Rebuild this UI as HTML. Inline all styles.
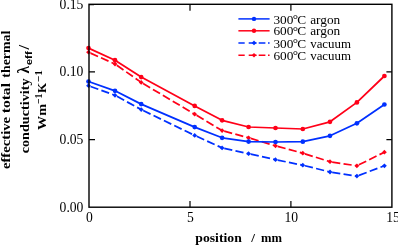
<!DOCTYPE html><html><head><meta charset="utf-8"><title>chart</title><style>html,body{margin:0;padding:0;background:#fff}svg{display:block}text{font-family:"Liberation Serif",serif;fill:#000}.b{font-weight:bold}.i{font-style:italic}.n{font-weight:normal}.s{font-family:"Liberation Sans",sans-serif;font-weight:bold}</style></head><body>
<svg width="398" height="246" viewBox="0 0 398 246">
<rect width="398" height="246" fill="#fff"/>
<path d="M90.57,86.45L115.00,95.30M116.93,96.35L141.20,109.60M143.18,110.56L194.70,135.40M196.70,136.31L222.10,147.90M224.25,148.37L248.60,153.70M250.75,154.18L275.50,159.70M277.66,160.13L302.80,165.20M304.93,165.73L330.00,172.00M332.17,172.33L356.90,176.10M358.96,175.33L384.40,165.80" fill="none" stroke="#0030ff" stroke-width="1.75" stroke-dasharray="8.2 3.3"/><path d="M86.1,85.7L88.5,83.3L90.9,85.7L88.5,88.10000000000001Z" fill="#0030ff"/><path d="M112.6,95.3L115,92.89999999999999L117.4,95.3L115,97.7Z" fill="#0030ff"/><path d="M138.79999999999998,109.6L141.2,107.19999999999999L143.6,109.6L141.2,112.0Z" fill="#0030ff"/><path d="M192.29999999999998,135.4L194.7,133.0L197.1,135.4L194.7,137.8Z" fill="#0030ff"/><path d="M219.7,147.9L222.1,145.5L224.5,147.9L222.1,150.3Z" fill="#0030ff"/><path d="M246.2,153.7L248.6,151.29999999999998L251.0,153.7L248.6,156.1Z" fill="#0030ff"/><path d="M273.1,159.7L275.5,157.29999999999998L277.9,159.7L275.5,162.1Z" fill="#0030ff"/><path d="M300.40000000000003,165.2L302.8,162.79999999999998L305.2,165.2L302.8,167.6Z" fill="#0030ff"/><path d="M327.6,172L330,169.6L332.4,172L330,174.4Z" fill="#0030ff"/><path d="M354.5,176.1L356.9,173.7L359.29999999999995,176.1L356.9,178.5Z" fill="#0030ff"/><path d="M382.0,165.8L384.4,163.4L386.79999999999995,165.8L384.4,168.20000000000002Z" fill="#0030ff"/>
<path d="M90.51,53.09L115.00,64.00M116.80,65.26L141.20,82.40M143.09,83.52L194.70,114.20M196.59,115.33L222.10,130.60M224.22,131.18L248.60,137.80M250.71,138.43L275.50,145.80M277.62,146.38L302.80,153.20M304.90,153.86L330.00,161.70M332.17,162.03L356.90,165.80M358.87,164.82L384.40,152.20" fill="none" stroke="#ff0018" stroke-width="1.75" stroke-dasharray="8.2 3.3"/><path d="M86.1,52.2L88.5,49.800000000000004L90.9,52.2L88.5,54.6Z" fill="#ff0018"/><path d="M112.6,64L115,61.6L117.4,64L115,66.4Z" fill="#ff0018"/><path d="M138.79999999999998,82.4L141.2,80.0L143.6,82.4L141.2,84.80000000000001Z" fill="#ff0018"/><path d="M192.29999999999998,114.2L194.7,111.8L197.1,114.2L194.7,116.60000000000001Z" fill="#ff0018"/><path d="M219.7,130.6L222.1,128.2L224.5,130.6L222.1,133.0Z" fill="#ff0018"/><path d="M246.2,137.8L248.6,135.4L251.0,137.8L248.6,140.20000000000002Z" fill="#ff0018"/><path d="M273.1,145.8L275.5,143.4L277.9,145.8L275.5,148.20000000000002Z" fill="#ff0018"/><path d="M300.40000000000003,153.2L302.8,150.79999999999998L305.2,153.2L302.8,155.6Z" fill="#ff0018"/><path d="M327.6,161.7L330,159.29999999999998L332.4,161.7L330,164.1Z" fill="#ff0018"/><path d="M354.5,165.8L356.9,163.4L359.29999999999995,165.8L356.9,168.20000000000002Z" fill="#ff0018"/><path d="M382.0,152.2L384.4,149.79999999999998L386.79999999999995,152.2L384.4,154.6Z" fill="#ff0018"/>
<polyline points="88.5,81.5 115,90.8 141.2,104.1 194.7,127.1 222.1,137.8 248.6,141.6 275.5,142 302.8,141.7 330,135.8 356.9,123.3 384.4,104.5" fill="none" stroke="#0030ff" stroke-width="1.75" stroke-linejoin="round"/><circle cx="88.5" cy="81.5" r="2.35" fill="#0030ff"/><circle cx="115" cy="90.8" r="2.35" fill="#0030ff"/><circle cx="141.2" cy="104.1" r="2.35" fill="#0030ff"/><circle cx="194.7" cy="127.1" r="2.35" fill="#0030ff"/><circle cx="222.1" cy="137.8" r="2.35" fill="#0030ff"/><circle cx="248.6" cy="141.6" r="2.35" fill="#0030ff"/><circle cx="275.5" cy="142" r="2.35" fill="#0030ff"/><circle cx="302.8" cy="141.7" r="2.35" fill="#0030ff"/><circle cx="330" cy="135.8" r="2.35" fill="#0030ff"/><circle cx="356.9" cy="123.3" r="2.35" fill="#0030ff"/><circle cx="384.4" cy="104.5" r="2.35" fill="#0030ff"/>
<polyline points="88.5,48.1 115,60.2 141.2,77.1 194.7,105.9 222.1,120.3 248.6,127 275.5,128 302.8,129 330,121.8 356.9,102.4 384.4,76.0" fill="none" stroke="#ff0018" stroke-width="1.75" stroke-linejoin="round"/><circle cx="88.5" cy="48.1" r="2.35" fill="#ff0018"/><circle cx="115" cy="60.2" r="2.35" fill="#ff0018"/><circle cx="141.2" cy="77.1" r="2.35" fill="#ff0018"/><circle cx="194.7" cy="105.9" r="2.35" fill="#ff0018"/><circle cx="222.1" cy="120.3" r="2.35" fill="#ff0018"/><circle cx="248.6" cy="127" r="2.35" fill="#ff0018"/><circle cx="275.5" cy="128" r="2.35" fill="#ff0018"/><circle cx="302.8" cy="129" r="2.35" fill="#ff0018"/><circle cx="330" cy="121.8" r="2.35" fill="#ff0018"/><circle cx="356.9" cy="102.4" r="2.35" fill="#ff0018"/><circle cx="384.4" cy="76.0" r="2.35" fill="#ff0018"/>
<rect x="89" y="4.3" width="302.9" height="202.89999999999998" fill="none" stroke="#000" stroke-width="1.4"/>
<path d="M190.0,207.2v-6.3M190.0,4.3v6.5 M89,139.6h6M391.9,139.6h-5.5 M290.9,207.2v-6.3M290.9,4.3v6.5 M89,71.9h6M391.9,71.9h-5.5 M89,4.6h5" stroke="#000" stroke-width="1.2" fill="none"/>
<text x="83.4" y="211.7" font-size="13.6" text-anchor="end">0.00</text>
<text x="83.4" y="144.1" font-size="13.6" text-anchor="end">0.05</text>
<text x="83.4" y="76.4" font-size="13.6" text-anchor="end">0.10</text>
<text x="83.4" y="8.8" font-size="13.6" text-anchor="end">0.15</text>
<text x="89.3" y="222.1" font-size="13.6" text-anchor="middle">0</text>
<text x="190.3" y="222.1" font-size="13.6" text-anchor="middle">5</text>
<text x="291.2" y="222.1" font-size="13.6" text-anchor="middle">10</text>
<text x="393.0" y="222.1" font-size="13.6" text-anchor="middle">15</text>
<line x1="238.4" y1="18.9" x2="269.6" y2="18.9" stroke="#0030ff" stroke-width="1.5"/>
<circle cx="254" cy="18.9" r="2.2" fill="#0030ff"/>
<text x="273.4" y="23.5" font-size="13.3">300<tspan dx="-0.6" dy="-0.7">°</tspan><tspan dx="-0.9" dy="0.7">C</tspan><tspan x="310.2">argon</tspan></text>
<line x1="238.4" y1="30.8" x2="269.6" y2="30.8" stroke="#ff0018" stroke-width="1.5"/>
<circle cx="254" cy="30.8" r="2.2" fill="#ff0018"/>
<text x="273.4" y="35.4" font-size="13.3">600<tspan dx="-0.6" dy="-0.7">°</tspan><tspan dx="-0.9" dy="0.7">C</tspan><tspan x="310.2">argon</tspan></text>
<path d="M238.4,42.9H244.7M248.7,42.9H256.6M258.7,42.9H265.4M268,42.9H269.6" stroke="#0030ff" stroke-width="1.5" fill="none"/>
<path d="M251.7,42.9L254,40.6L256.3,42.9L254,45.199999999999996Z" fill="#0030ff"/>
<text x="273.4" y="47.5" font-size="13.3">300<tspan dx="-0.6" dy="-0.7">°</tspan><tspan dx="-0.9" dy="0.7">C</tspan><tspan x="310.2" textLength="40.8" lengthAdjust="spacingAndGlyphs">vacuum</tspan></text>
<path d="M238.4,55.3H244.7M248.7,55.3H256.6M258.7,55.3H265.4M268,55.3H269.6" stroke="#ff0018" stroke-width="1.5" fill="none"/>
<path d="M251.7,55.3L254,53.0L256.3,55.3L254,57.599999999999994Z" fill="#ff0018"/>
<text x="273.4" y="59.9" font-size="13.3">600<tspan dx="-0.6" dy="-0.7">°</tspan><tspan dx="-0.9" dy="0.7">C</tspan><tspan x="310.2" textLength="40.8" lengthAdjust="spacingAndGlyphs">vacuum</tspan></text>
<text class="b" font-size="13.5" y="242.3"><tspan x="195.3" textLength="46.5" lengthAdjust="spacingAndGlyphs">position</tspan> <tspan x="251.3">/</tspan> <tspan x="261.0" textLength="21.0" lengthAdjust="spacingAndGlyphs">mm</tspan></text>
<text class="b" font-size="13.5" transform="translate(10.3,169.1) rotate(-90)"><tspan x="0.0" dy="0.0" textLength="52.2" lengthAdjust="spacingAndGlyphs">effective</tspan> <tspan x="55.8" dy="0.0" textLength="30.3" lengthAdjust="spacingAndGlyphs">total</tspan> <tspan x="91.4" dy="0.0" textLength="47.0" lengthAdjust="spacingAndGlyphs">thermal</tspan></text>
<text class="b" font-size="13.5" transform="translate(28.8,153.3) rotate(-90)"><tspan x="0.0" dy="0.0" textLength="74.8" lengthAdjust="spacingAndGlyphs">conductivity</tspan> <tspan x="79.7" dy="0.0" textLength="7.4" lengthAdjust="spacingAndGlyphs" font-size="17">λ</tspan><tspan x="88.0" dy="2.9" textLength="14.1" lengthAdjust="spacingAndGlyphs" class="s" font-size="9.5">eff</tspan><tspan x="103.7" dy="-2.5" textLength="4.7" lengthAdjust="spacingAndGlyphs" font-size="15.5">/</tspan></text>
<text class="b" font-size="13.5" transform="translate(46,130) rotate(-90)"><tspan x="0.0" dy="0.0" textLength="25.9" lengthAdjust="spacingAndGlyphs">Wm</tspan><tspan x="25.8" dy="-4.2" textLength="10.6" lengthAdjust="spacingAndGlyphs" font-size="11">−1</tspan><tspan x="37.0" dy="4.2" textLength="10.2" lengthAdjust="spacingAndGlyphs">K</tspan><tspan x="47.7" dy="-4.2" textLength="12.2" lengthAdjust="spacingAndGlyphs" font-size="11">−1</tspan></text>
</svg></body></html>
